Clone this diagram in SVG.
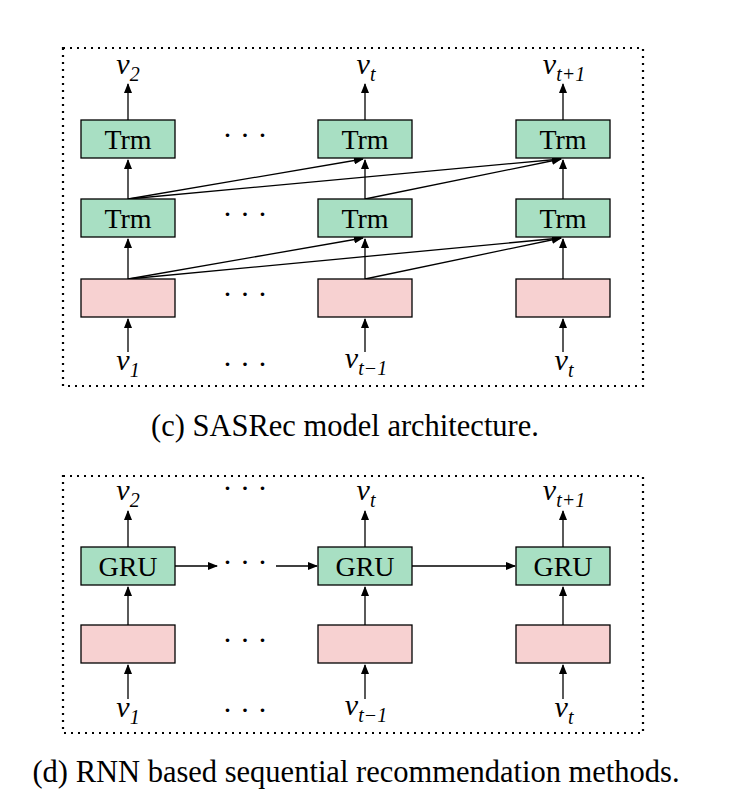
<svg xmlns="http://www.w3.org/2000/svg" width="744" height="802" viewBox="0 0 744 802">
<defs>
<marker id="a" markerWidth="10" markerHeight="8" refX="9" refY="4" orient="auto" markerUnits="userSpaceOnUse"><path d="M0,0 L10,4 L0,8 Z" fill="#000"/></marker>
<style>
.g{fill:#a8dfc3;stroke:#000;stroke-width:1.3}
.p{fill:#f7d1d1;stroke:#000;stroke-width:1.3}
.l{stroke:#000;stroke-width:1.3;fill:none;marker-end:url(#a)}
.f{fill:none;stroke:#000;stroke-width:2.2;stroke-dasharray:2 5}
text{font-family:"Liberation Serif",serif;font-size:28px;text-anchor:middle}
.v{font-style:italic;font-size:30px}
.s{font-style:italic;font-size:20px}
.c{font-size:30.5px}
.d{font-size:30px}
</style>
</defs>
<rect class="f" x="63" y="48" width="580" height="338"/>
<rect class="f" x="63" y="476" width="580" height="257"/>
<g id="connectors">
<path class="l" d="M128,199 V160"/><path class="l" d="M365,199 V160"/><path class="l" d="M563,199 V160"/>
<path class="l" d="M128,279 V239"/><path class="l" d="M365,279 V239"/><path class="l" d="M563,279 V239"/>
<path class="l" d="M128,120 V84"/><path class="l" d="M365,120 V84"/><path class="l" d="M563,120 V84"/>
<path class="l" d="M128,352 V319"/><path class="l" d="M365,352 V319"/><path class="l" d="M563,352 V319"/>
<path class="l" d="M128,199 L363,159"/><path class="l" d="M128,199 L561,159"/><path class="l" d="M365,199 L561,159"/>
<path class="l" d="M128,279 L363,238"/><path class="l" d="M128,279 L561,238"/><path class="l" d="M365,279 L561,238"/>
<path class="l" d="M128,547 V511"/><path class="l" d="M365,547 V511"/><path class="l" d="M563,547 V511"/>
<path class="l" d="M128,699 V665"/><path class="l" d="M365,699 V665"/><path class="l" d="M563,699 V665"/>
<path class="l" d="M128,625 V587"/><path class="l" d="M365,625 V587"/><path class="l" d="M563,625 V587"/>
<path class="l" d="M175,566 H217"/><path class="l" d="M276,566 H317"/><path class="l" d="M412,566 H515"/>
</g>
<g id="trm-top"><rect class="g" x="81" y="120" width="94" height="38"/><text x="128" y="149">Trm</text>
<rect class="g" x="318" y="120" width="94" height="38"/><text x="365" y="149">Trm</text>
<rect class="g" x="516" y="120" width="94" height="38"/><text x="563" y="149">Trm</text></g>
<g id="trm-mid"><rect class="g" x="81" y="199" width="94" height="38"/><text x="128" y="228">Trm</text>
<rect class="g" x="318" y="199" width="94" height="38"/><text x="365" y="228">Trm</text>
<rect class="g" x="516" y="199" width="94" height="38"/><text x="563" y="228">Trm</text></g>
<g id="emb-c"><rect class="p" x="81" y="279" width="94" height="38"/><rect class="p" x="318" y="279" width="94" height="38"/><rect class="p" x="516" y="279" width="94" height="38"/></g>
<g id="gru"><rect class="g" x="81" y="547" width="94" height="38"/><text x="128" y="576">GRU</text>
<rect class="g" x="318" y="547" width="94" height="38"/><text x="365" y="576">GRU</text>
<rect class="g" x="516" y="547" width="94" height="38"/><text x="563" y="576">GRU</text></g>
<g id="emb-d"><rect class="p" x="81" y="625" width="94" height="38"/><rect class="p" x="318" y="625" width="94" height="38"/><rect class="p" x="516" y="625" width="94" height="38"/></g>
<g id="labels">
<text class="d" x="245" y="145">· · ·</text><text class="d" x="245" y="224">· · ·</text><text class="d" x="245" y="304">· · ·</text><text class="d" x="245" y="374">· · ·</text>
<text class="d" x="245" y="498">· · ·</text><text class="d" x="245" y="572">· · ·</text><text class="d" x="245" y="650">· · ·</text><text class="d" x="245" y="720">· · ·</text>
<text class="v" x="128" y="74">v<tspan class="s" dy="7">2</tspan></text>
<text class="v" x="366" y="74">v<tspan class="s" dy="7">t</tspan></text>
<text class="v" x="564" y="74">v<tspan class="s" dy="7">t+1</tspan></text>
<text class="v" x="128" y="370">v<tspan class="s" dy="7">1</tspan></text>
<text class="v" x="366" y="368">v<tspan class="s" dy="7">t−1</tspan></text>
<text class="v" x="564" y="370">v<tspan class="s" dy="7">t</tspan></text>
<text class="v" x="128" y="500">v<tspan class="s" dy="7">2</tspan></text>
<text class="v" x="366" y="500">v<tspan class="s" dy="7">t</tspan></text>
<text class="v" x="564" y="500">v<tspan class="s" dy="7">t+1</tspan></text>
<text class="v" x="128" y="717">v<tspan class="s" dy="7">1</tspan></text>
<text class="v" x="366" y="715">v<tspan class="s" dy="7">t−1</tspan></text>
<text class="v" x="564" y="717">v<tspan class="s" dy="7">t</tspan></text>
<text class="c" x="345" y="436">(c) SASRec model architecture.</text>
<text class="c" x="356" y="782">(d) RNN based sequential recommendation methods.</text>
</g>
</svg>
